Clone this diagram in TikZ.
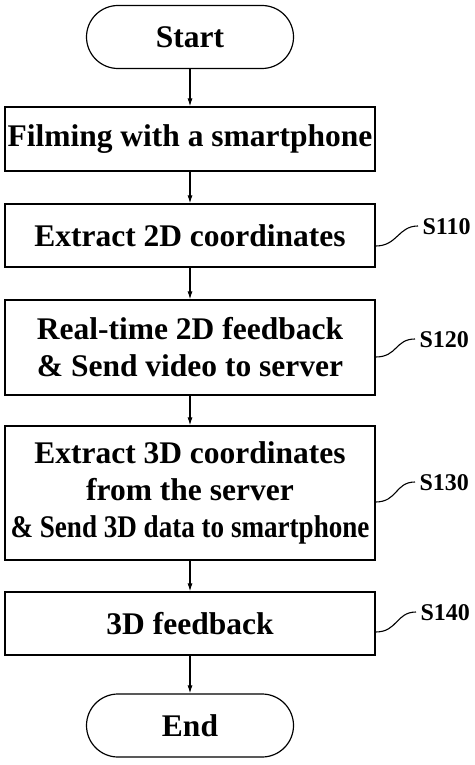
\documentclass[tikz,border=0pt]{standalone}
\usepackage{fontspec}
\setmainfont{Liberation Serif}
\usepackage{graphicx}
\usetikzlibrary{arrows.meta,calc}
\begin{document}
\begin{tikzpicture}[x=1pt,y=-1pt,
  line width=1.2pt,
  txt/.style={font=\bfseries\fontsize{31.5}{37}\selectfont, align=center},
  stepbox/.style={draw, rectangle, txt, minimum width=370pt, inner sep=0pt},
  term/.style={draw, rectangle, rounded corners=31.5pt, txt, minimum width=207pt, minimum height=63pt, inner sep=0pt},
  lab/.style={font=\bfseries\fontsize{24}{28}\selectfont, inner sep=2pt, anchor=west},
  arr/.style={-{Latex[length=8pt,width=5pt]}, line width=1.1pt},
  lead/.style={line width=1.1pt}
]
\useasboundingbox (0,0) rectangle (474,765);

\node[term] (start) at (190,37) {Start};
\node[stepbox, minimum height=64pt] (b1) at (190,139) {Filming with a smartphone};
\node[stepbox, minimum height=63pt] (b2) at (190,235.5) {Extract 2D coordinates};
\node[stepbox, minimum height=95pt] (b3) at (190,347.5) {Real-time 2D feedback\\\& Send video to server};
\node[stepbox, minimum height=134pt] (b4) at (190,493) {Extract 3D coordinates\\from the server\\\scalebox{0.86}[1]{\& Send 3D data to smartphone}};
\node[stepbox, minimum height=63pt] (b5) at (190,623.5) {3D feedback};
\node[term] (end) at (190,725.5) {End};

\draw[arr] (start) -- (b1);
\draw[arr] (b1) -- (b2);
\draw[arr] (b2) -- (b3);
\draw[arr] (b3) -- (b4);
\draw[arr] (b4) -- (b5);
\draw[arr] (b5) -- (end);

\node[lab] (l1) at (420,227) {S110};
\node[lab] (l2) at (417,340) {S120};
\node[lab] (l3) at (417,483) {S130};
\node[lab] (l4) at (418,613) {S140};

\coordinate (c1) at (375,246);
\coordinate (c2) at (375,357);
\coordinate (c3) at (375,502);
\coordinate (c4) at (375,632);

\draw[lead] (b2.east |- c1) .. controls ($(b2.east |- c1)+(22,0)$) and ($(l1.west)+(-22,-1)$) .. ($(l1.west)+(-2,-1)$);
\draw[lead] (b3.east |- c2) .. controls ($(b3.east |- c2)+(22,0)$) and ($(l2.west)+(-22,-1)$) .. ($(l2.west)+(-2,-1)$);
\draw[lead] (b4.east |- c3) .. controls ($(b4.east |- c3)+(22,0)$) and ($(l3.west)+(-22,-1)$) .. ($(l3.west)+(-2,-1)$);
\draw[lead] (b5.east |- c4) .. controls ($(b5.east |- c4)+(22,0)$) and ($(l4.west)+(-22,-1)$) .. ($(l4.west)+(-2,-1)$);
\end{tikzpicture}
\end{document}
